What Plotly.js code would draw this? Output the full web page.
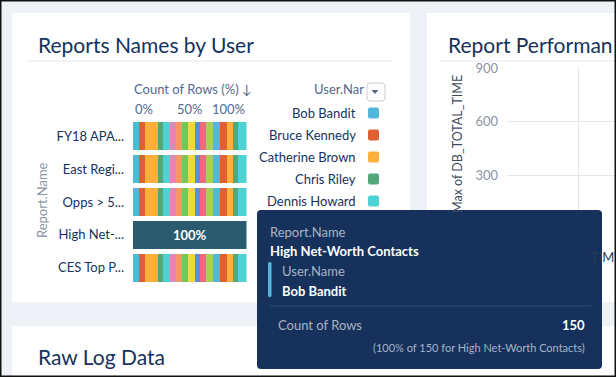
<!DOCTYPE html>
<html><head><meta charset="utf-8">
<script src="https://cdn.plot.ly/plotly-3.0.1.min.js"></script>
<style>html,body{margin:0;padding:0;background:#fff;overflow:hidden}#chart{width:616px;height:377px}</style>
</head><body><div id="chart"></div>
<script>
// ---------- data ----------
const reportNames = ["FY18 APA...", "East Regi...", "Opps > 5...", "High Net-...", "CES Top P..."];
const userNames = ["Bob Bandit", "Bruce Kennedy", "Catherine Brown", "Chris Riley", "Dennis Howard",
  "User 6", "User 7", "User 8", "User 9", "User 10", "User 11", "User 12",
  "User 13", "User 14", "User 15", "User 16", "User 17"];
const userColors = ["#52B7D8", "#E16032", "#FFB03B", "#54A77B", "#4FD2D2", "#E287B2", "#F39A63",
  "#72C859", "#F4D53F", "#5A8FD8", "#EE6B7E", "#A8CF5B",
  "#52B7D8", "#E16032", "#FFB03B", "#54A77B", "#4FD2D2"];
const countsFY18    = [12, 12, 26, 10, 14, 12, 12, 12, 14, 10, 12, 14, 14, 14, 12, 10, 16];
const countsEast    = [12, 11, 26, 10, 14, 12, 12, 12, 13, 10, 12, 14, 14, 13, 12, 11, 16];
const countsOpps    = [11, 12, 26, 10, 14, 12, 12, 13, 13, 10, 12, 14, 14, 13, 12, 11, 16];
const countsHighNet = [150, 0, 0, 0, 0, 0, 0, 0, 0, 0, 0, 0, 0, 0, 0, 0, 0];
const countsCES     = [12, 12, 25, 10, 14, 12, 12, 12, 14, 10, 12, 14, 14, 14, 12, 10, 16];
const percentTicks = [0, 50, 100];
const percentTickLabels = ["0%", "50%", "100%"];
const legendShown = 5;

const perfX = [785, 782, 785];
const perfY = [815, 760, 705];
const perfColors = ["#54A77B", "#E16032", "#54A77B"];
const perfYTicks = [0, 300, 600, 900];
const perfXTicks = [0, 500];

const highlightReport = "High Net-Worth Contacts";
const highlightIndex = 3;
const highlightUser = 0;

// ---------- helpers ----------
const W = 616, H = 377;
const X = px => px / W;
const Y = py => 1 - py / H;
const FONT = "Lato, 'Open Sans', sans-serif";
const NAVY = "#16325C", GREY = "#54698D";
function rr(x0, y0, x1, y1, r) {
  return `M ${X(x0 + r)} ${Y(y0)} L ${X(x1 - r)} ${Y(y0)} Q ${X(x1)} ${Y(y0)} ${X(x1)} ${Y(y0 + r)} ` +
    `L ${X(x1)} ${Y(y1 - r)} Q ${X(x1)} ${Y(y1)} ${X(x1 - r)} ${Y(y1)} L ${X(x0 + r)} ${Y(y1)} ` +
    `Q ${X(x0)} ${Y(y1)} ${X(x0)} ${Y(y1 - r)} L ${X(x0)} ${Y(y0 + r)} Q ${X(x0)} ${Y(y0)} ${X(x0 + r)} ${Y(y0)} Z`;
}
function ann(text, px, py, o = {}) {
  return Object.assign({
    text, x: X(px), y: Y(py), xref: "paper", yref: "paper", showarrow: false,
    xanchor: "left", yanchor: "middle",
    font: {family: FONT, size: 13, color: NAVY}
  }, o);
}
function rect(x0, y0, x1, y1, fill, layer = "below", line = {width: 0}) {
  return {type: "rect", xref: "paper", yref: "paper", x0: X(x0), x1: X(x1), y0: Y(y0), y1: Y(y1),
    fillcolor: fill, line, layer};
}

// ---------- traces ----------
const allCounts = [countsFY18, countsEast, countsOpps, countsHighNet, countsCES];
const traces = userNames.map((u, i) => {
  const colors = reportNames.map((r, j) => (j === highlightIndex && i === highlightUser) ? "#2A5B6F" : userColors[i]);
  const vals = allCounts.map(c => c[i]);
  const total = allCounts.map(c => c.reduce((a, b) => a + b, 0));
  const texts = reportNames.map((r, j) => (j === highlightIndex && i === highlightUser) ?
    Math.round(100 * vals[j] / total[j]) + "%" : "");
  return {
    type: "bar", orientation: "h", name: u, y: reportNames, x: vals,
    xaxis: "x", yaxis: "y",
    marker: {color: colors, line: {width: 0}},
    text: texts, textposition: "inside", insidetextanchor: "middle",
    textfont: {family: FONT, size: 13, color: "#ffffff", weight: "bold"},
    hoverinfo: "skip", showlegend: false
  };
});
traces.push({
  type: "scatter", mode: "markers", x: perfX, y: perfY, xaxis: "x2", yaxis: "y2",
  marker: {size: 12, color: perfColors, opacity: 0.9}, cliponaxis: false,
  hoverinfo: "skip", showlegend: false
});

// ---------- layout decorations ----------
const shapes = [
  rect(0, 0, W, H, "#EEF1F6"),
  rect(12, 13, 410, 302, "#ffffff"),
  rect(427, 13, W, 302, "#ffffff"),
  rect(12, 326, W, H, "#ffffff"),
  {type: "line", xref: "paper", yref: "paper", x0: X(28), x1: X(393), y0: Y(61), y1: Y(61), line: {color: "#E3E7EC", width: 1}, layer: "below"},
  {type: "line", xref: "paper", yref: "paper", x0: X(440), x1: X(W), y0: Y(61), y1: Y(61), line: {color: "#E3E7EC", width: 1}, layer: "below"},
  // dropdown button
  {type: "path", xref: "paper", yref: "paper", path: rr(367, 83, 385, 101, 3), fillcolor: "#ffffff", line: {color: "#C9CED6", width: 1}, layer: "above"},
  {type: "path", xref: "paper", yref: "paper", path: `M ${X(371.5)} ${Y(90)} L ${X(378.5)} ${Y(90)} L ${X(375)} ${Y(94)} Z`, fillcolor: GREY, line: {width: 0}, layer: "above"},
];
const annotations = [
  ann("Reports Names by User", 36, 44, {font: {family: FONT, size: 21, color: NAVY}}),
  ann("Report Performan", 615, 44, {xanchor: "right", font: {family: FONT, size: 21, color: NAVY}}),
  ann("Raw Log Data", 36, 356, {font: {family: FONT, size: 21, color: NAVY}}),
  ann("Count of Rows (%) ↓", 193, 89, {xanchor: "center", font: {family: FONT, size: 13, color: GREY}}),
  ann("Report.Name", 42, 200, {xanchor: "center", textangle: -90, font: {family: FONT, size: 13, color: "#8A94A6"}}),
  ann("User.Nar", 366, 89, {xanchor: "right", font: {family: FONT, size: 13, color: GREY}}),
  ann("Max of DB_TOTAL_TIME", 457, 144, {xanchor: "center", textangle: -90, font: {family: FONT, size: 12.5, color: "#3E4A5E"}}),
  ann("TIM", 616, 257, {xanchor: "right", font: {family: FONT, size: 13, color: "#2E3A4E"}}),
];
// percent tick labels (left / center / right aligned inside the axis span)
percentTicks.forEach((t, i) => {
  annotations.push({text: percentTickLabels[i], x: t, xref: "x", y: Y(109), yref: "paper", showarrow: false,
    xanchor: i === 0 ? "left" : (i === percentTicks.length - 1 ? "right" : "center"), yanchor: "middle",
    font: {family: FONT, size: 13, color: GREY}});
});
// custom legend
for (let i = 0; i < legendShown; i++) {
  const py = 113 + i * 22;
  annotations.push(ann(userNames[i], 358, py, {xanchor: "right"}));
  shapes.push({type: "path", xref: "paper", yref: "paper", path: rr(368, py - 5.5, 379, py + 5.5, 2),
    fillcolor: userColors[i], line: {width: 0}, layer: "below"});
}
// tooltip
const hlCount = countsHighNet[highlightUser];
const hlTotal = countsHighNet.reduce((a, b) => a + b, 0);
shapes.push({type: "path", xref: "paper", yref: "paper", path: rr(257, 210, 602, 369, 4), fillcolor: NAVY, line: {width: 0}, layer: "above"});
shapes.push({type: "path", xref: "paper", yref: "paper", path: rr(268, 262, 271.5, 297, 1.5), fillcolor: userColors[highlightUser], line: {width: 0}, layer: "above"});
shapes.push({type: "line", xref: "paper", yref: "paper", x0: X(270), x1: X(591), y0: Y(306), y1: Y(306), line: {color: "#2E4A73", width: 1}, layer: "above"});
const TL = "#A6B3C5";
annotations.push(
  ann("Report.Name", 268, 232, {font: {family: FONT, size: 13, color: TL}}),
  ann("<b>" + highlightReport + "</b>", 268, 251, {font: {family: FONT, size: 13, color: "#ffffff"}}),
  ann("User.Name", 280, 271, {font: {family: FONT, size: 13, color: TL}}),
  ann("<b>" + userNames[highlightUser] + "</b>", 280, 291, {font: {family: FONT, size: 13, color: "#ffffff"}}),
  ann("Count of Rows", 276, 325, {font: {family: FONT, size: 13, color: TL}}),
  ann("<b>" + hlCount + "</b>", 587, 325, {xanchor: "right", font: {family: FONT, size: 13, color: "#ffffff"}}),
  ann(`(${Math.round(100 * hlCount / hlTotal)}% of ${hlTotal} for ${highlightReport})`, 587, 347, {xanchor: "right", font: {family: FONT, size: 11, color: TL}})
);
// page border
shapes.push({type: "rect", xref: "paper", yref: "paper", x0: X(0.75), x1: X(W - 0.75), y0: Y(0.75), y1: Y(H - 0.75),
  line: {color: "#111111", width: 1.5}, fillcolor: "rgba(0,0,0,0)", layer: "above"});

const layout = {
  width: W, height: H, autosize: false,
  margin: {l: 0, r: 0, t: 0, b: 0, pad: 0},
  paper_bgcolor: "#EEF1F6", plot_bgcolor: "rgba(0,0,0,0)",
  barmode: "stack", barnorm: "percent", bargap: 0.14,
  hovermode: false, showlegend: false,
  font: {family: FONT, color: NAVY},
  xaxis: {domain: [X(133), X(246.5)], range: [0, 100], showgrid: false, zeroline: false,
    showticklabels: false, ticks: "", fixedrange: true, anchor: "y"},
  yaxis: {domain: [Y(284.3), Y(119.7)], type: "category", categoryarray: reportNames, autorange: "reversed",
    showgrid: false, zeroline: false, ticks: "", ticklabelstandoff: 8,
    tickfont: {family: FONT, size: 13, color: NAVY}, anchor: "x"},
  xaxis2: {domain: [X(507), 1], range: [0, 500 * (W - 507) / 71], tickvals: perfXTicks, showticklabels: false,
    showgrid: true, gridcolor: "#E3E7ED", zeroline: false, ticks: "", anchor: "y2"},
  yaxis2: {domain: [Y(228.5), Y(68)], range: [0, 900], tickvals: perfYTicks, showgrid: true, gridcolor: "#E3E7ED",
    zeroline: false, ticks: "", ticklabelstandoff: 8, tickfont: {family: FONT, size: 13, color: "#8A94A6"}, anchor: "x2"},
  shapes, annotations
};
Plotly.newPlot("chart", traces, layout, {displayModeBar: false, staticPlot: true});
</script></body></html>
